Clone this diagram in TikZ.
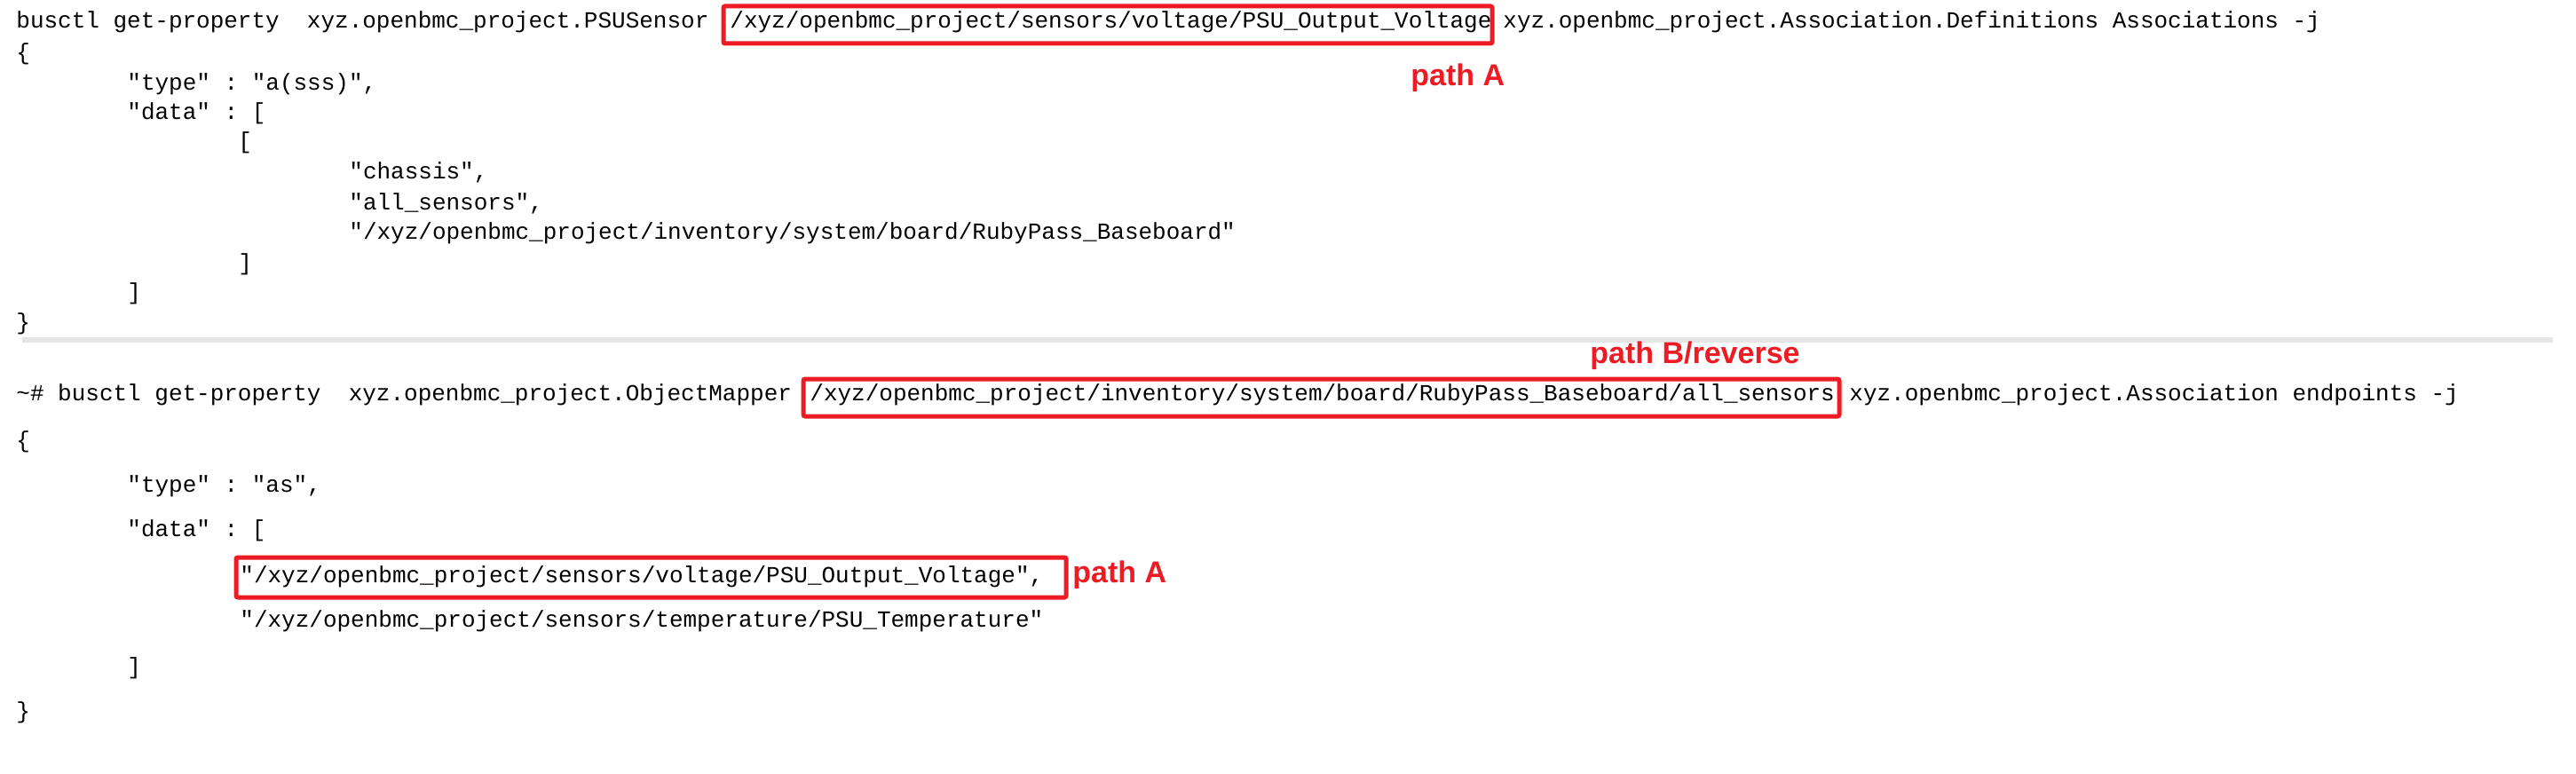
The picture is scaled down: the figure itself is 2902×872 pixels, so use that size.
\documentclass[tikz,border=0pt]{standalone}
\usepackage{fontspec}
\setmonofont{Liberation Mono}
\newfontfamily\lblfont{Liberation Sans}
\definecolor{boxred}{HTML}{ED1C24}
\begin{document}
\begin{tikzpicture}[x=0.5pt,y=-0.5pt,
  code/.style={anchor=mid west,inner sep=0pt,font=\fontsize{13}{15}\ttfamily},
  lbl/.style={anchor=mid west,inner sep=0pt,text=boxred,font=\fontsize{17}{19}\lblfont\bfseries},
  redbox/.style={draw=boxred,line width=2.5pt,rounded corners=1pt}]
\useasboundingbox[fill=white] (0,0) rectangle (2902,872);
% top block
\node[code] (t1) at (18,27) {busctl get-property\ \ xyz.openbmc\_project.PSUSensor};
\node[code] (t1p) at (822,27) {/xyz/openbmc\_project/sensors/voltage/PSU\_Output\_Voltage};
\node[code] (t1r) at (1693,27) {xyz.openbmc\_project.Association.Definitions Associations -j};
\draw[redbox] (815,7) rectangle (1681,49);
\node[code] (t2) at (18,63) {\{};
\node[code] (t3) at (143,97) {"type" : "a(sss)",};
\node[code] (t4) at (143,130) {"data" : [};
\node[code] (t5) at (268,163) {[};
\node[code] (t6) at (393,197) {"chassis",};
\node[code] (t7) at (393,232) {"all\_sensors",};
\node[code] (t8) at (393,265) {"/xyz/openbmc\_project/inventory/system/board/RubyPass\_Baseboard"};
\node[code] (t9) at (268,300) {]};
\node[code] (t10) at (143,333) {]};
\node[code] (t11) at (18,367) {\}};
\node[lbl] (la) at (1589,92) {path A};
% separator
\draw[black!10,line width=3pt] (25,383) -- (2876,383);
% bottom block
\node[lbl] (lb) at (1791,405) {path B/reverse};
\node[code] (b1) at (18,447) {\textasciitilde\# busctl get-property\ \ xyz.openbmc\_project.ObjectMapper};
\node[code] (b1p) at (912,447) {/xyz/openbmc\_project/inventory/system/board/RubyPass\_Baseboard/all\_sensors};
\node[code] (b1r) at (2083,447) {xyz.openbmc\_project.Association endpoints -j};
\draw[redbox] (905,427) rectangle (2072,469);
\node[code] (b2) at (18,500) {\{};
\node[code] (b3) at (143,550) {"type" : "as",};
\node[code] (b4) at (143,600) {"data" : [};
\node[code] (b5) at (270,652) {"/xyz/openbmc\_project/sensors/voltage/PSU\_Output\_Voltage",};
\draw[redbox] (266,628) rectangle (1201,673);
\node[lbl] (lc) at (1208,652) {path A};
\node[code] (b6) at (270,702) {"/xyz/openbmc\_project/sensors/temperature/PSU\_Temperature"};
\node[code] (b7) at (143,755) {]};
\node[code] (b8) at (18,805) {\}};
\end{tikzpicture}
\end{document}
